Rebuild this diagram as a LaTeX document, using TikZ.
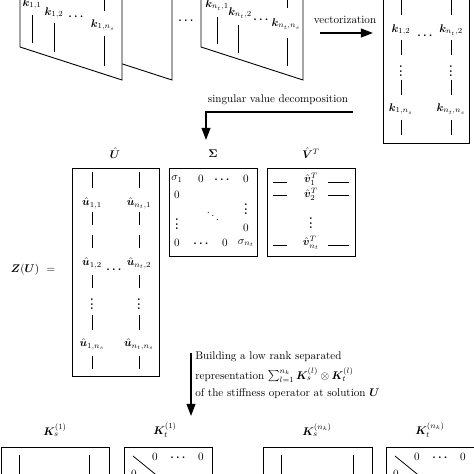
\documentclass[tikz,border=0pt]{standalone}
\usepackage{amsmath,amssymb}
\usepackage{bm}
\usetikzlibrary{arrows.meta}

\newcommand{\hd}{\bm{\cdots}}
\newcommand{\vd}{\bm{\vdots}}

\begin{document}
\begin{tikzpicture}[x=0.03165cm,y=-0.03165cm,>={Triangle[length=11pt,width=8pt]},
            every node/.style={inner sep=1pt},
            mat/.style={draw,line width=0.8pt},
            col/.style={line width=0.7pt},
            big/.style={->,line width=1.4pt}]
            \useasboundingbox (0,0) rectangle (474,474);
            \clip (0,0) rectangle (474,474);
            % slices
            \foreach \dx in {50,0,181}
                \filldraw [fill=white,line width=0.8pt] (20+\dx,-60) -- (20+\dx,47) -- (122+\dx,80) -- (122+\dx,-27) -- cycle;
            \node (k11) at (32,4) {$\bm{k}_{1,1}$};
            \node (k12) at (54,13) {$\bm{k}_{1,2}$};
            \node (kd1) at (77,17) {$\hd$};
            \node (k1n) at (103,25) {$\bm{k}_{1,n_s}$};
            \draw [col] (32,15) -- (32,43);
            \draw [col] (54,23) -- (54,52);
            \draw [col] (104,36) -- (104,66);
            \draw [col] (104,-20) -- (104,11);
            \node (sd) at (187,21) {$\hd$};
            \node (kt1) at (217,5) {$\bm{k}_{n_t,1}$};
            \node (kt2) at (240,13) {$\bm{k}_{n_t,2}$};
            \node (kd2) at (262,20) {$\hd$};
            \node (ktn) at (286,24) {$\bm{k}_{n_t,n_s}$};
            \draw [col] (217,17) -- (217,44);
            \draw [col] (238,25) -- (238,53);
            \draw [col] (287,38) -- (287,66);
            \draw [col] (287,-20) -- (287,8);
            % vectorization
            \node (vec) at (345,20) {vectorization};
            \coordinate (va) at (320,33);
            \coordinate (vb) at (373,33);
            \draw [big] (va) -- (vb);
            \draw [mat] (383,-60) rectangle (469,143);
            \node (v12) at (401,30) {$\bm{k}_{1,2}$};
            \node (vd) at (426,36) {$\hd$};
            \node (vt2) at (451,30) {$\bm{k}_{n_t,2}$};
            \node (vv1) at (401,68) {$\vd$};
            \node (vv2) at (451,68) {$\vd$};
            \node (v1n) at (401,109) {$\bm{k}_{1,n_s}$};
            \node (vtn) at (451,109) {$\bm{k}_{n_t,n_s}$};
            \foreach \x in {401,451} {
                \draw [col] (\x,-10) -- (\x,15);
                \draw [col] (\x,40) -- (\x,55);
                \draw [col] (\x,80) -- (\x,95);
                \draw [col] (\x,120) -- (\x,135);
            }
            % svd
            \node (svd) at (278,100) {singular value decomposition};
            \coordinate (sa) at (353,112);
            \coordinate (sb) at (206,140);
            \draw [big] (sa) -| (sb);
            \node (Uh) at (115,153) {$\hat{\bm{U}}$};
            \node (Sg) at (213,154) {$\bm{\Sigma}$};
            \node (Vh) at (311,153) {$\hat{\bm{V}}^T$};
            \draw [mat] (72,168) rectangle (159,376);
            \draw [mat] (169,168) rectangle (257,256);
            \draw [mat] (267,168) rectangle (355,256);
            \node (ZU) at (25,270) {$\bm{Z}(\bm{U})$};
            \node (eq) at (51,270) {$=$};
            \node (u11) at (92,203) {$\hat{\bm{u}}_{1,1}$};
            \node (ut1) at (139,203) {$\hat{\bm{u}}_{n_t,1}$};
            \node (u12) at (92,263) {$\hat{\bm{u}}_{1,2}$};
            \node (ud) at (115,270) {$\hd$};
            \node (ut2) at (139,263) {$\hat{\bm{u}}_{n_t,2}$};
            \node (uv1) at (92,301) {$\vd$};
            \node (uv2) at (139,301) {$\vd$};
            \node (u1n) at (92,344) {$\hat{\bm{u}}_{1,n_s}$};
            \node (utn) at (139,344) {$\hat{\bm{u}}_{n_t,n_s}$};
            \foreach \x in {92,139} {
                \draw [col] (\x,172) -- (\x,188);
                \draw [col] (\x,212) -- (\x,225);
                \draw [col] (\x,235) -- (\x,248);
                \draw [col] (\x,275) -- (\x,288);
                \draw [col] (\x,315) -- (\x,330);
                \draw [col] (\x,356) -- (\x,369);
            }
            \node (s1) at (177,179) {$\sigma_1$};
            \node (s12) at (201,179) {$0$};
            \node (s1d) at (223,180) {$\hd$};
            \node (s1e) at (246,179) {$0$};
            \node (s21) at (177,195) {$0$};
            \node (s2v) at (246,206) {$\vd$};
            \node (sdd) at (213,213) {$\bm{\ddots}$};
            \node (s3v) at (177,221) {$\vd$};
            \node (s3e) at (246,228) {$0$};
            \node (sn1) at (177,243) {$0$};
            \node (snd) at (202,244) {$\hd$};
            \node (sn3) at (225,243) {$0$};
            \node (sn) at (246,243) {$\sigma_{n_t}$};
            \node (v1) at (311,179) {$\hat{\bm{v}}_1^T$};
            \node (v2) at (311,194) {$\hat{\bm{v}}_2^T$};
            \node (vvd) at (311,220) {$\vd$};
            \node (vn) at (311,243) {$\hat{\bm{v}}_{n_t}^T$};
            \foreach \y in {182,195,245} {
                \draw [col] (273,\y) -- (287,\y);
                \draw [col] (328,\y) -- (349,\y);
            }
            % low rank
            \coordinate (ba) at (191,353);
            \coordinate (bb) at (191,416);
            \draw [big] (ba) -- (bb);
            \node [anchor=west] (b1) at (194,357) {Building a low rank separated};
            \node [anchor=west] (b2) at (194,375) {representation $\sum_{l=1}^{n_k}\bm{K}_s^{(l)}\otimes\bm{K}_t^{(l)}$};
            \node [anchor=west] (b3) at (194,394) {of the stiffness operator at solution $\bm{U}$};
            \node (Ks1) at (55,430) {$\bm{K}_s^{(1)}$};
            \node (Kt1) at (165,430) {$\bm{K}_t^{(1)}$};
            \node (Ksn) at (317,430) {$\bm{K}_s^{(n_k)}$};
            \node (Ktn) at (430,430) {$\bm{K}_t^{(n_k)}$};
            \draw [mat] (1,447) rectangle (109,500);
            \draw [mat] (124,447) rectangle (212,500);
            \draw [mat] (263,447) rectangle (372,500);
            \draw [mat] (386,447) rectangle (480,500);
            \draw [col] (19,455) -- (19,480);
            \draw [col] (89,455) -- (89,480);
            \draw [col] (281,455) -- (281,480);
            \draw [col] (353,455) -- (353,480);
            \foreach \x/\n in {124/a,386/b} {
                \draw [col] (\x+9,456) -- (\x+36,478);
                \node (z1\n) at (\x+31,457) {$0$};
                \node (zd\n) at (\x+55,458) {$\hd$};
                \node (z2\n) at (\x+77,457) {$0$};
                \node (z3\n) at (\x+10,474) {$0$};
            }
        \end{tikzpicture}
\end{document}
